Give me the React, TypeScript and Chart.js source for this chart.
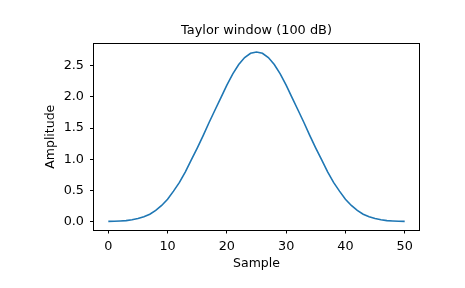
import React, { useEffect, useRef } from 'react';
import { Chart, registerables } from 'chart.js';

Chart.register(...registerables);

const samples = [
  0, 1, 2, 3, 4, 5, 6, 7, 8, 9,
  10, 11, 12, 13, 14, 15, 16, 17, 18, 19,
  20, 21, 22, 23, 24, 25, 26, 27, 28, 29,
  30, 31, 32, 33, 34, 35, 36, 37, 38, 39,
  40, 41, 42, 43, 44, 45, 46, 47, 48, 49, 50,
];

const amplitude = [
  0.006, 0.008, 0.012, 0.018, 0.03, 0.05, 0.08, 0.12, 0.18, 0.26,
  0.36, 0.49, 0.63, 0.8, 0.99, 1.18, 1.38, 1.59, 1.79, 1.99,
  2.19, 2.37, 2.52, 2.63, 2.7, 2.72, 2.7, 2.63, 2.52, 2.37,
  2.19, 1.99, 1.79, 1.59, 1.38, 1.18, 0.99, 0.8, 0.63, 0.49,
  0.36, 0.26, 0.18, 0.12, 0.08, 0.05, 0.03, 0.018, 0.012, 0.008, 0.006,
];

const xTicks = [0, 10, 20, 30, 40, 50];
const yTicks = [0, 0.5, 1.0, 1.5, 2.0, 2.5];

const titleText = 'Taylor window (100 dB)';
const xLabel = 'Sample';
const yLabel = 'Amplitude';

const FONT = "'DejaVu Sans', sans-serif";

const framePlugin = {
  id: 'frame',
  afterDatasetsDraw(chart: any) {
    const { ctx, chartArea } = chart;
    const l = Math.floor(chartArea.left);
    const t = Math.floor(chartArea.top);
    const r = Math.floor(chartArea.right);
    const b = Math.floor(chartArea.bottom);
    ctx.save();
    ctx.strokeStyle = '#000';
    ctx.lineWidth = 1;
    ctx.strokeRect(l + 0.5, t + 0.5, r - l, b - t);
    ctx.restore();
  },
  afterDraw(chart: any) {
    const { ctx, chartArea } = chart;
    ctx.save();
    ctx.fillStyle = '#000';
    ctx.font = `normal 12.9px ${FONT}`;
    ctx.textAlign = 'center';
    ctx.textBaseline = 'middle';
    ctx.fillText(titleText, (chartArea.left + chartArea.right) / 2, 30.5);
    ctx.restore();
  },
};

export default function App() {
  const ref = useRef<HTMLCanvasElement | null>(null);

  useEffect(() => {
    document.body.style.margin = '0';
    const canvas = ref.current;
    if (!canvas) return;
    const data = samples.map((s, i) => ({ x: s, y: amplitude[i] }));
    const chart = new Chart(canvas, {
      type: 'line',
      data: {
        datasets: [
          {
            data,
            borderColor: '#1f77b4',
            borderWidth: 1.6,
            pointRadius: 0,
            tension: 0,
            fill: false,
          },
        ],
      },
      options: {
        animation: false,
        responsive: false,
        maintainAspectRatio: false,
        devicePixelRatio: 1,
        layout: { padding: { left: 0, right: 45.5, top: 43.5, bottom: 0 } },
        plugins: {
          legend: { display: false },
          tooltip: { enabled: false },
          title: { display: false },
        },
        scales: {
          x: {
            type: 'linear',
            min: -2.5,
            max: 52.5,
            afterBuildTicks: (scale: any) => {
              scale.ticks = xTicks.map((v) => ({ value: v }));
            },
            afterFit: (scale: any) => {
              scale.height = 58;
            },
            grid: {
              drawOnChartArea: false,
              drawTicks: true,
              tickLength: 3.5,
              tickColor: '#000',
              color: '#000',
            },
            border: { display: false },
            ticks: {
              color: '#000',
              font: { family: FONT, size: 12.8 },
              padding: 5.3,
              maxRotation: 0,
              autoSkip: false,
              callback: (v: any) => String(v),
            },
            title: {
              display: true,
              text: xLabel,
              color: '#000',
              font: { family: FONT, size: 12.5 },
              padding: { top: 0, bottom: 17 },
            },
          },
          y: {
            type: 'linear',
            min: -0.133,
            max: 2.856,
            afterBuildTicks: (scale: any) => {
              scale.ticks = yTicks.map((v) => ({ value: v }));
            },
            afterFit: (scale: any) => {
              scale.width = 93.5;
            },
            grid: {
              drawOnChartArea: false,
              drawTicks: true,
              tickLength: 3.5,
              tickColor: '#000',
              color: '#000',
            },
            border: { display: false },
            ticks: {
              color: '#000',
              font: { family: FONT, size: 12.8 },
              padding: 6,
              autoSkip: false,
              callback: (v: any) => Number(v).toFixed(1),
            },
            title: {
              display: true,
              text: yLabel,
              color: '#000',
              font: { family: FONT, size: 12.5 },
              padding: { top: 43.5, bottom: 0 },
            },
          },
        },
      },
      plugins: [framePlugin],
    } as any);
    return () => chart.destroy();
  }, []);

  return (
    <div style={{ position: 'absolute', left: 0, top: 0, width: 465, height: 288, background: '#fff' }}>
      <canvas ref={ref} width={465} height={288} style={{ display: 'block', width: 465, height: 288 }} />
    </div>
  );
}
